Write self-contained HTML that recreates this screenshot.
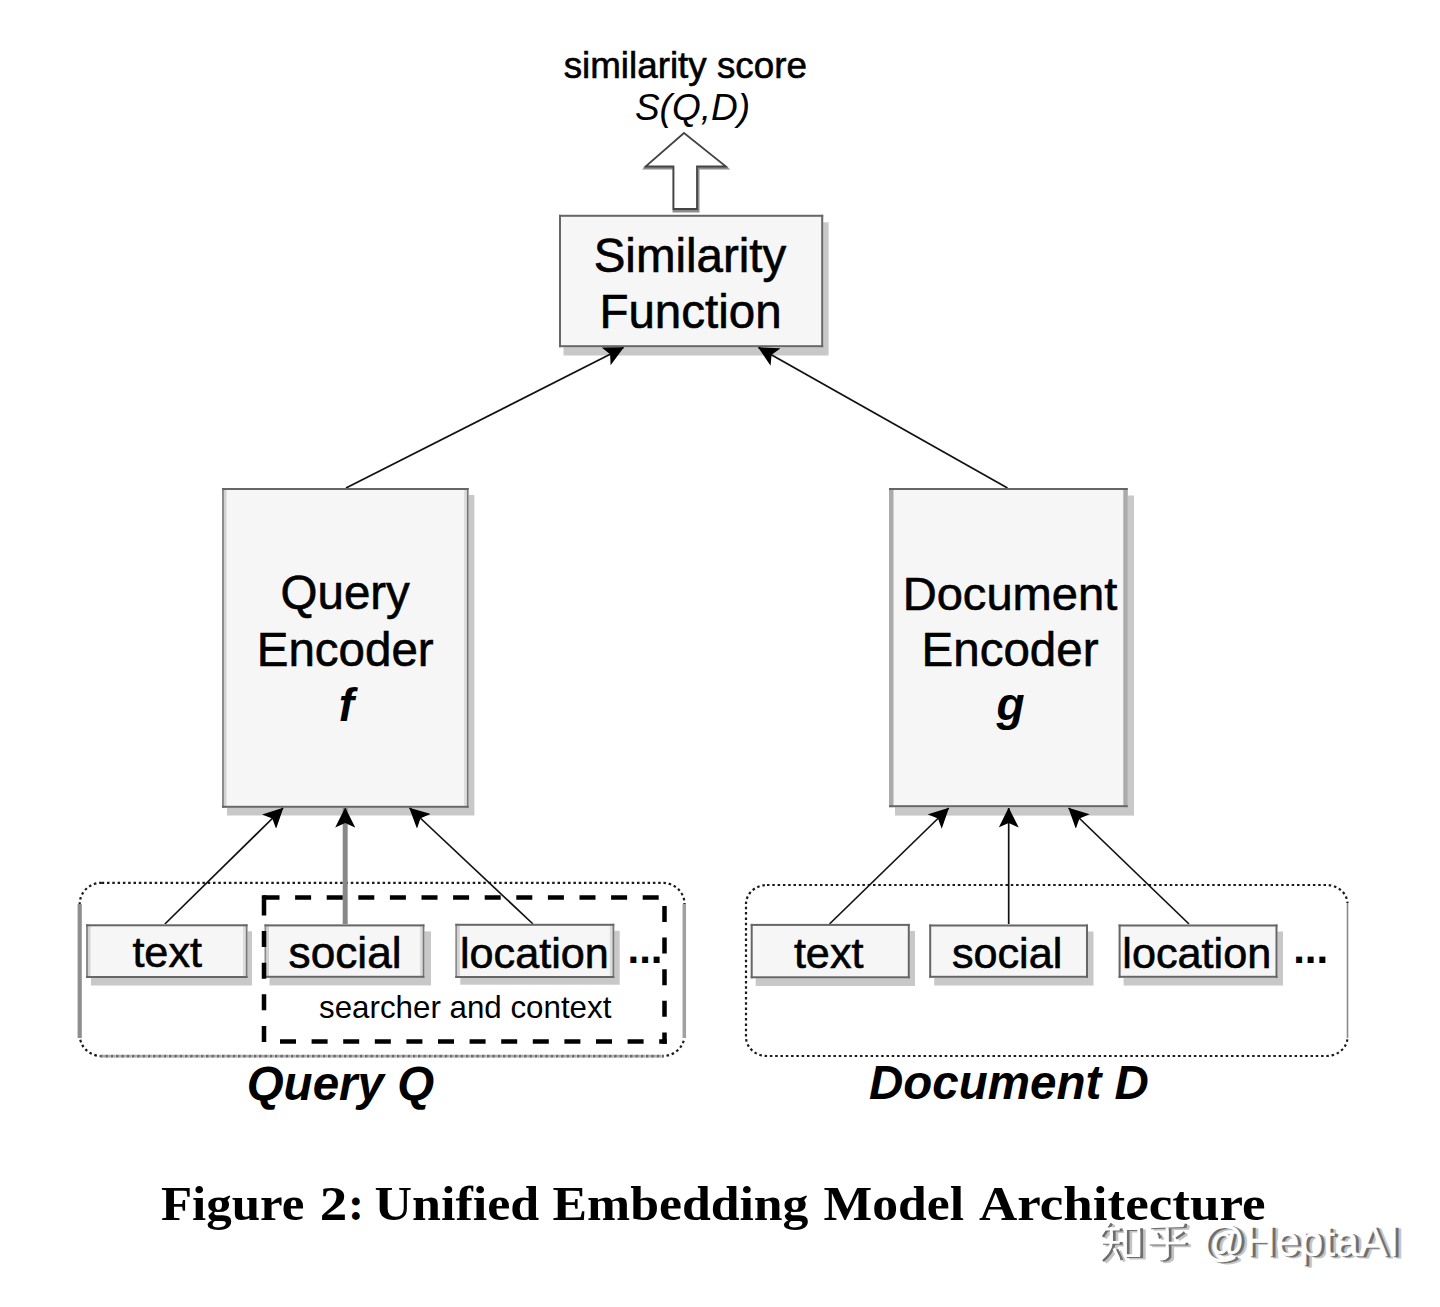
<!DOCTYPE html>
<html><head><meta charset="utf-8">
<style>
html,body{margin:0;padding:0;background:#fff;width:1440px;height:1307px;overflow:hidden}
svg{position:absolute;left:0;top:0;display:block}
text{font-family:"Liberation Sans",sans-serif;fill:#000}
.t{stroke:#000;stroke-width:0.6}
.serif{font-family:"Liberation Serif",serif}
</style></head><body>
<svg width="1440" height="1307" viewBox="0 0 1440 1307">
<defs>
<marker id="ah" viewBox="0 0 20 20" markerWidth="20" markerHeight="20" refX="19.5" refY="10" orient="auto" markerUnits="userSpaceOnUse">
<path d="M0,0 L20,10 L0,20 L4.5,10 Z" fill="#000"/>
</marker>
</defs>
<text class="t" x="685.3" y="77.5" font-size="36.8" text-anchor="middle">similarity score</text>
<text x="692.5" y="120" font-size="37" text-anchor="middle" font-style="italic">S(Q,D)</text>
<path d="M684,135 L726,168 L698,168 L698,211 L674,211 L674,168 L646,168 Z" fill="none" stroke="#8c8c8c" stroke-width="3"/>
<path d="M684,133 L726,166.5 L697,166.5 L697,209 L673.5,209 L673.5,166.5 L645.5,166.5 Z" fill="#fff" stroke="#444" stroke-width="1.8"/>
<rect x="563.5" y="222.3" width="265.10" height="133.20" fill="#c8c8c8"/>
<rect x="559" y="214.8" width="264.20" height="132.40" fill="#f6f6f6"/>
<rect x="559.00" y="214.8" width="2" height="132.40" fill="#666"/>
<rect x="821.20" y="214.8" width="2" height="132.40" fill="#666"/>
<rect x="559" y="214.8" width="264.20" height="2" fill="#666"/>
<rect x="559" y="345.20" width="264.20" height="2" fill="#666"/>
<text class="t" x="690" y="271.8" font-size="47.5" text-anchor="middle">Similarity</text>
<text class="t" x="690.5" y="328" font-size="47.5" text-anchor="middle">Function</text>
<line x1="346" y1="488" x2="623.5" y2="347.5" stroke="#111" stroke-width="1.7" marker-end="url(#ah)"/>
<line x1="1007.5" y1="488" x2="758.5" y2="347.5" stroke="#111" stroke-width="1.7" marker-end="url(#ah)"/>
<rect x="227" y="495" width="247.40" height="320.50" fill="#c8c8c8"/>
<rect x="222" y="488" width="246.60" height="319.80" fill="#f6f6f6"/>
<rect x="222.00" y="488" width="2" height="319.80" fill="#8c8c8c"/>
<rect x="224.00" y="488" width="2.5" height="319.80" fill="#d2d2d2"/>
<rect x="466.60" y="488" width="2" height="319.80" fill="#777"/>
<rect x="464.10" y="488" width="2.5" height="319.80" fill="#dcdcdc"/>
<rect x="222" y="488" width="246.60" height="2" fill="#666"/>
<rect x="222" y="805.80" width="246.60" height="2" fill="#666"/>
<text class="t" x="345.2" y="609" font-size="47.5" text-anchor="middle">Query</text>
<text class="t" x="345.2" y="665.7" font-size="47.5" text-anchor="middle">Encoder</text>
<text x="346.5" y="721" font-size="46" text-anchor="middle" font-weight="bold" font-style="italic">f</text>
<rect x="895" y="495.5" width="239.00" height="320.10" fill="#c8c8c8"/>
<rect x="889" y="488" width="238.80" height="319.20" fill="#f6f6f6"/>
<rect x="889.00" y="488" width="4.5" height="319.20" fill="#ababab"/>
<rect x="1123.30" y="488" width="4.5" height="319.20" fill="#ababab"/>
<rect x="889" y="488" width="238.80" height="2" fill="#666"/>
<rect x="889" y="805.20" width="238.80" height="2" fill="#666"/>
<text class="t" x="1010" y="610" font-size="47.1" text-anchor="middle">Document</text>
<text class="t" x="1010" y="666" font-size="47.5" text-anchor="middle">Encoder</text>
<text x="1010.5" y="720.4" font-size="46" text-anchor="middle" font-weight="bold" font-style="italic">g</text>
<rect x="79.7" y="882.8" width="604.8" height="173.3" rx="22" ry="21" fill="none" stroke="#1a1a1a" stroke-width="2.2" stroke-dasharray="2.5 2.8"/>
<line x1="100" y1="1056.1" x2="664" y2="1056.1" stroke="#fff" stroke-width="3"/>
<line x1="100" y1="1056.1" x2="664" y2="1056.1" stroke="#6a6a6a" stroke-width="2.6" stroke-dasharray="2.8 2.5"/>
<line x1="100" y1="1056.1" x2="664" y2="1056.1" stroke="#aaa" stroke-width="2.6" stroke-dasharray="2.5 2.8" stroke-dashoffset="2.8"/>
<line x1="79.7" y1="904" x2="79.7" y2="1038" stroke="#8e8e8e" stroke-width="4.2"/>
<line x1="684.3" y1="904" x2="684.3" y2="1038" stroke="#a0a0a0" stroke-width="3.5"/>
<line x1="164.9" y1="924" x2="283" y2="808" stroke="#111" stroke-width="1.7" marker-end="url(#ah)"/>
<line x1="345.2" y1="924" x2="345.2" y2="808" stroke="#888" stroke-width="5" marker-end="url(#ah)"/>
<line x1="533" y1="924" x2="409.6" y2="808" stroke="#111" stroke-width="1.7" marker-end="url(#ah)"/>
<rect x="91" y="931.3" width="161.00" height="54.20" fill="#c8c8c8"/>
<rect x="86" y="924.3" width="161.50" height="53.70" fill="#f6f6f6"/>
<rect x="86.00" y="924.3" width="2" height="53.70" fill="#8c8c8c"/>
<rect x="88.00" y="924.3" width="2.5" height="53.70" fill="#d2d2d2"/>
<rect x="245.50" y="924.3" width="2" height="53.70" fill="#777"/>
<rect x="243.00" y="924.3" width="2.5" height="53.70" fill="#dcdcdc"/>
<rect x="86" y="924.3" width="161.50" height="2" fill="#666"/>
<rect x="86" y="976.00" width="161.50" height="2" fill="#666"/>
<rect x="269.5" y="931.4" width="161.50" height="54.00" fill="#c8c8c8"/>
<rect x="264.5" y="924.4" width="159.90" height="53.40" fill="#f6f6f6"/>
<rect x="264.50" y="924.4" width="2" height="53.40" fill="#8c8c8c"/>
<rect x="266.50" y="924.4" width="2.5" height="53.40" fill="#d2d2d2"/>
<rect x="422.40" y="924.4" width="2" height="53.40" fill="#777"/>
<rect x="419.90" y="924.4" width="2.5" height="53.40" fill="#dcdcdc"/>
<rect x="264.5" y="924.4" width="159.90" height="2" fill="#666"/>
<rect x="264.5" y="975.80" width="159.90" height="2" fill="#666"/>
<rect x="460.3" y="930.8" width="159.40" height="53.90" fill="#c8c8c8"/>
<rect x="455.3" y="923.8" width="159.00" height="54.20" fill="#f6f6f6"/>
<rect x="455.30" y="923.8" width="2" height="54.20" fill="#8c8c8c"/>
<rect x="457.30" y="923.8" width="2.5" height="54.20" fill="#d2d2d2"/>
<rect x="612.30" y="923.8" width="2" height="54.20" fill="#777"/>
<rect x="609.80" y="923.8" width="2.5" height="54.20" fill="#dcdcdc"/>
<rect x="455.3" y="923.8" width="159.00" height="2" fill="#666"/>
<rect x="455.3" y="976.00" width="159.00" height="2" fill="#666"/>
<text class="t" x="167.2" y="967.2" font-size="43.2" text-anchor="middle">text</text>
<text class="t" x="345.1" y="967.9" font-size="44.2" text-anchor="middle">social</text>
<text class="t" x="534.4" y="967.5" font-size="43.2" text-anchor="middle">location</text>
<text x="645" y="963" font-size="42" text-anchor="middle" font-weight="bold">...</text>
<g stroke="#000" stroke-width="4.5" fill="none" stroke-dasharray="16 15.6">
<line x1="263.5" y1="897.5" x2="666.75" y2="897.5"/>
<line x1="664.5" y1="906" x2="664.5" y2="1043.75"/>
<line x1="280" y1="1041.5" x2="666.75" y2="1041.5"/>
<line x1="264" y1="899.5" x2="264" y2="1043.75"/>
</g>
<rect x="261.75" y="895.25" width="4.5" height="4.5" fill="#000"/>
<text x="465.2" y="1017.5" font-size="31.3" text-anchor="middle">searcher and context</text>
<rect x="746" y="885" width="601.5" height="171" rx="21" ry="19" fill="none" stroke="#1a1a1a" stroke-width="2.2" stroke-dasharray="2.5 2.8"/>
<line x1="1347.5" y1="903" x2="1347.5" y2="1038" stroke="#fff" stroke-width="3"/>
<line x1="1347.5" y1="903" x2="1347.5" y2="1038" stroke="#8a8a8a" stroke-width="1.6"/>
<line x1="829.5" y1="924" x2="948.7" y2="808" stroke="#111" stroke-width="1.7" marker-end="url(#ah)"/>
<line x1="1008.7" y1="924" x2="1008.7" y2="808" stroke="#111" stroke-width="1.7" marker-end="url(#ah)"/>
<line x1="1189" y1="924" x2="1068.7" y2="808" stroke="#111" stroke-width="1.7" marker-end="url(#ah)"/>
<rect x="755.7" y="930.9" width="159.30" height="55.10" fill="#c8c8c8"/>
<rect x="750.7" y="923.9" width="159.10" height="54.40" fill="#f6f6f6"/>
<rect x="750.70" y="923.9" width="2" height="54.40" fill="#666"/>
<rect x="907.80" y="923.9" width="2" height="54.40" fill="#666"/>
<rect x="750.7" y="923.9" width="159.10" height="2" fill="#666"/>
<rect x="750.7" y="976.30" width="159.10" height="2" fill="#666"/>
<rect x="934.2" y="931.5" width="159.30" height="54.00" fill="#c8c8c8"/>
<rect x="929.2" y="924.5" width="158.80" height="53.30" fill="#f6f6f6"/>
<rect x="929.20" y="924.5" width="2" height="53.30" fill="#666"/>
<rect x="1086.00" y="924.5" width="2" height="53.30" fill="#666"/>
<rect x="929.2" y="924.5" width="158.80" height="2" fill="#666"/>
<rect x="929.2" y="975.80" width="158.80" height="2" fill="#666"/>
<rect x="1123.6" y="931.5" width="159.40" height="54.00" fill="#c8c8c8"/>
<rect x="1118.6" y="924.5" width="158.90" height="53.30" fill="#f6f6f6"/>
<rect x="1118.60" y="924.5" width="2" height="53.30" fill="#666"/>
<rect x="1275.50" y="924.5" width="2" height="53.30" fill="#666"/>
<rect x="1118.6" y="924.5" width="158.90" height="2" fill="#666"/>
<rect x="1118.6" y="975.80" width="158.90" height="2" fill="#666"/>
<text class="t" x="828.7" y="967.5" font-size="43.2" text-anchor="middle">text</text>
<text class="t" x="1007.1" y="967.5" font-size="43.2" text-anchor="middle">social</text>
<text class="t" x="1196.8" y="967.5" font-size="43.2" text-anchor="middle">location</text>
<text x="1310.7" y="963" font-size="42" text-anchor="middle" font-weight="bold">...</text>
<text x="340.4" y="1099.7" font-size="47.5" text-anchor="middle" font-weight="bold" font-style="italic">Query Q</text>
<text x="1008.9" y="1098.9" font-size="47.5" text-anchor="middle" font-weight="bold" font-style="italic">Document D</text>
<g class="serif" font-size="48" font-weight="bold">
<text class="serif" x="160.9" y="1220.3" textLength="143.4" lengthAdjust="spacingAndGlyphs">Figure</text>
<text class="serif" x="319.8" y="1220.3" textLength="27.5" lengthAdjust="spacingAndGlyphs">2</text><text class="serif" x="348" y="1220.3">:</text>
<text class="serif" x="374.5" y="1220.3" textLength="164.7" lengthAdjust="spacingAndGlyphs">Unified</text>
<text class="serif" x="552.5" y="1220.3" textLength="256.0" lengthAdjust="spacingAndGlyphs">Embedding</text>
<text class="serif" x="823.5" y="1220.3" textLength="140.5" lengthAdjust="spacingAndGlyphs">Model</text>
<text class="serif" x="979.0" y="1220.3" textLength="286.5" lengthAdjust="spacingAndGlyphs">Architecture</text>
</g>
<g fill="none" stroke-linecap="butt" stroke-linejoin="miter">
<g transform="translate(2.5,1.5)" stroke="#c4c4c4" stroke-width="3"><path d="M1111.8,1223.4 L1103,1236.9 M1108,1230 L1122.7,1230 M1103,1243.4 L1122.7,1243.4 M1114.3,1228 L1114.3,1244 Q1112,1254 1103,1261 M1116.9,1249.3 L1122,1260 M1128.2,1229.6 L1141.7,1229.6 L1141.7,1256.6 L1128.2,1256.6 Z"/><path d="M1151.2,1227.8 L1185.4,1226.7 L1186,1223.8 M1157.7,1233.2 L1160.6,1238.3 M1184.7,1232.5 L1176,1238.3 M1149.7,1244.2 L1188.4,1244.2 M1170.1,1227 L1170.1,1257 Q1169,1260.5 1160.6,1260.2"/></g>
<g stroke="#6e6e6e" stroke-width="2.8"><path d="M1111.8,1223.4 L1103,1236.9 M1108,1230 L1122.7,1230 M1103,1243.4 L1122.7,1243.4 M1114.3,1228 L1114.3,1244 Q1112,1254 1103,1261 M1116.9,1249.3 L1122,1260 M1128.2,1229.6 L1141.7,1229.6 L1141.7,1256.6 L1128.2,1256.6 Z"/><path d="M1151.2,1227.8 L1185.4,1226.7 L1186,1223.8 M1157.7,1233.2 L1160.6,1238.3 M1184.7,1232.5 L1176,1238.3 M1149.7,1244.2 L1188.4,1244.2 M1170.1,1227 L1170.1,1257 Q1169,1260.5 1160.6,1260.2"/></g>
<g transform="translate(-3,-1)" stroke="#fff" stroke-width="2.8"><path d="M1111.8,1223.4 L1103,1236.9 M1108,1230 L1122.7,1230 M1103,1243.4 L1122.7,1243.4 M1114.3,1228 L1114.3,1244 Q1112,1254 1103,1261 M1116.9,1249.3 L1122,1260 M1128.2,1229.6 L1141.7,1229.6 L1141.7,1256.6 L1128.2,1256.6 Z"/><path d="M1151.2,1227.8 L1185.4,1226.7 L1186,1223.8 M1157.7,1233.2 L1160.6,1238.3 M1184.7,1232.5 L1176,1238.3 M1149.7,1244.2 L1188.4,1244.2 M1170.1,1227 L1170.1,1257 Q1169,1260.5 1160.6,1260.2"/></g>
</g>
<text x="1207" y="1258.1" font-size="42" textLength="197.5" lengthAdjust="spacingAndGlyphs" style="fill:#c4c4c4" stroke="#c4c4c4" stroke-width="0.8">@HeptaAI</text>
<text x="1204.5" y="1256.6" font-size="42" textLength="197.5" lengthAdjust="spacingAndGlyphs" style="fill:#6e6e6e" stroke="#6e6e6e" stroke-width="0.6">@HeptaAI</text>
<text x="1201.5" y="1255.6" font-size="42" textLength="197.5" lengthAdjust="spacingAndGlyphs" style="fill:#fff" stroke="#fff" stroke-width="0.6">@HeptaAI</text>
</svg>
</body></html>
